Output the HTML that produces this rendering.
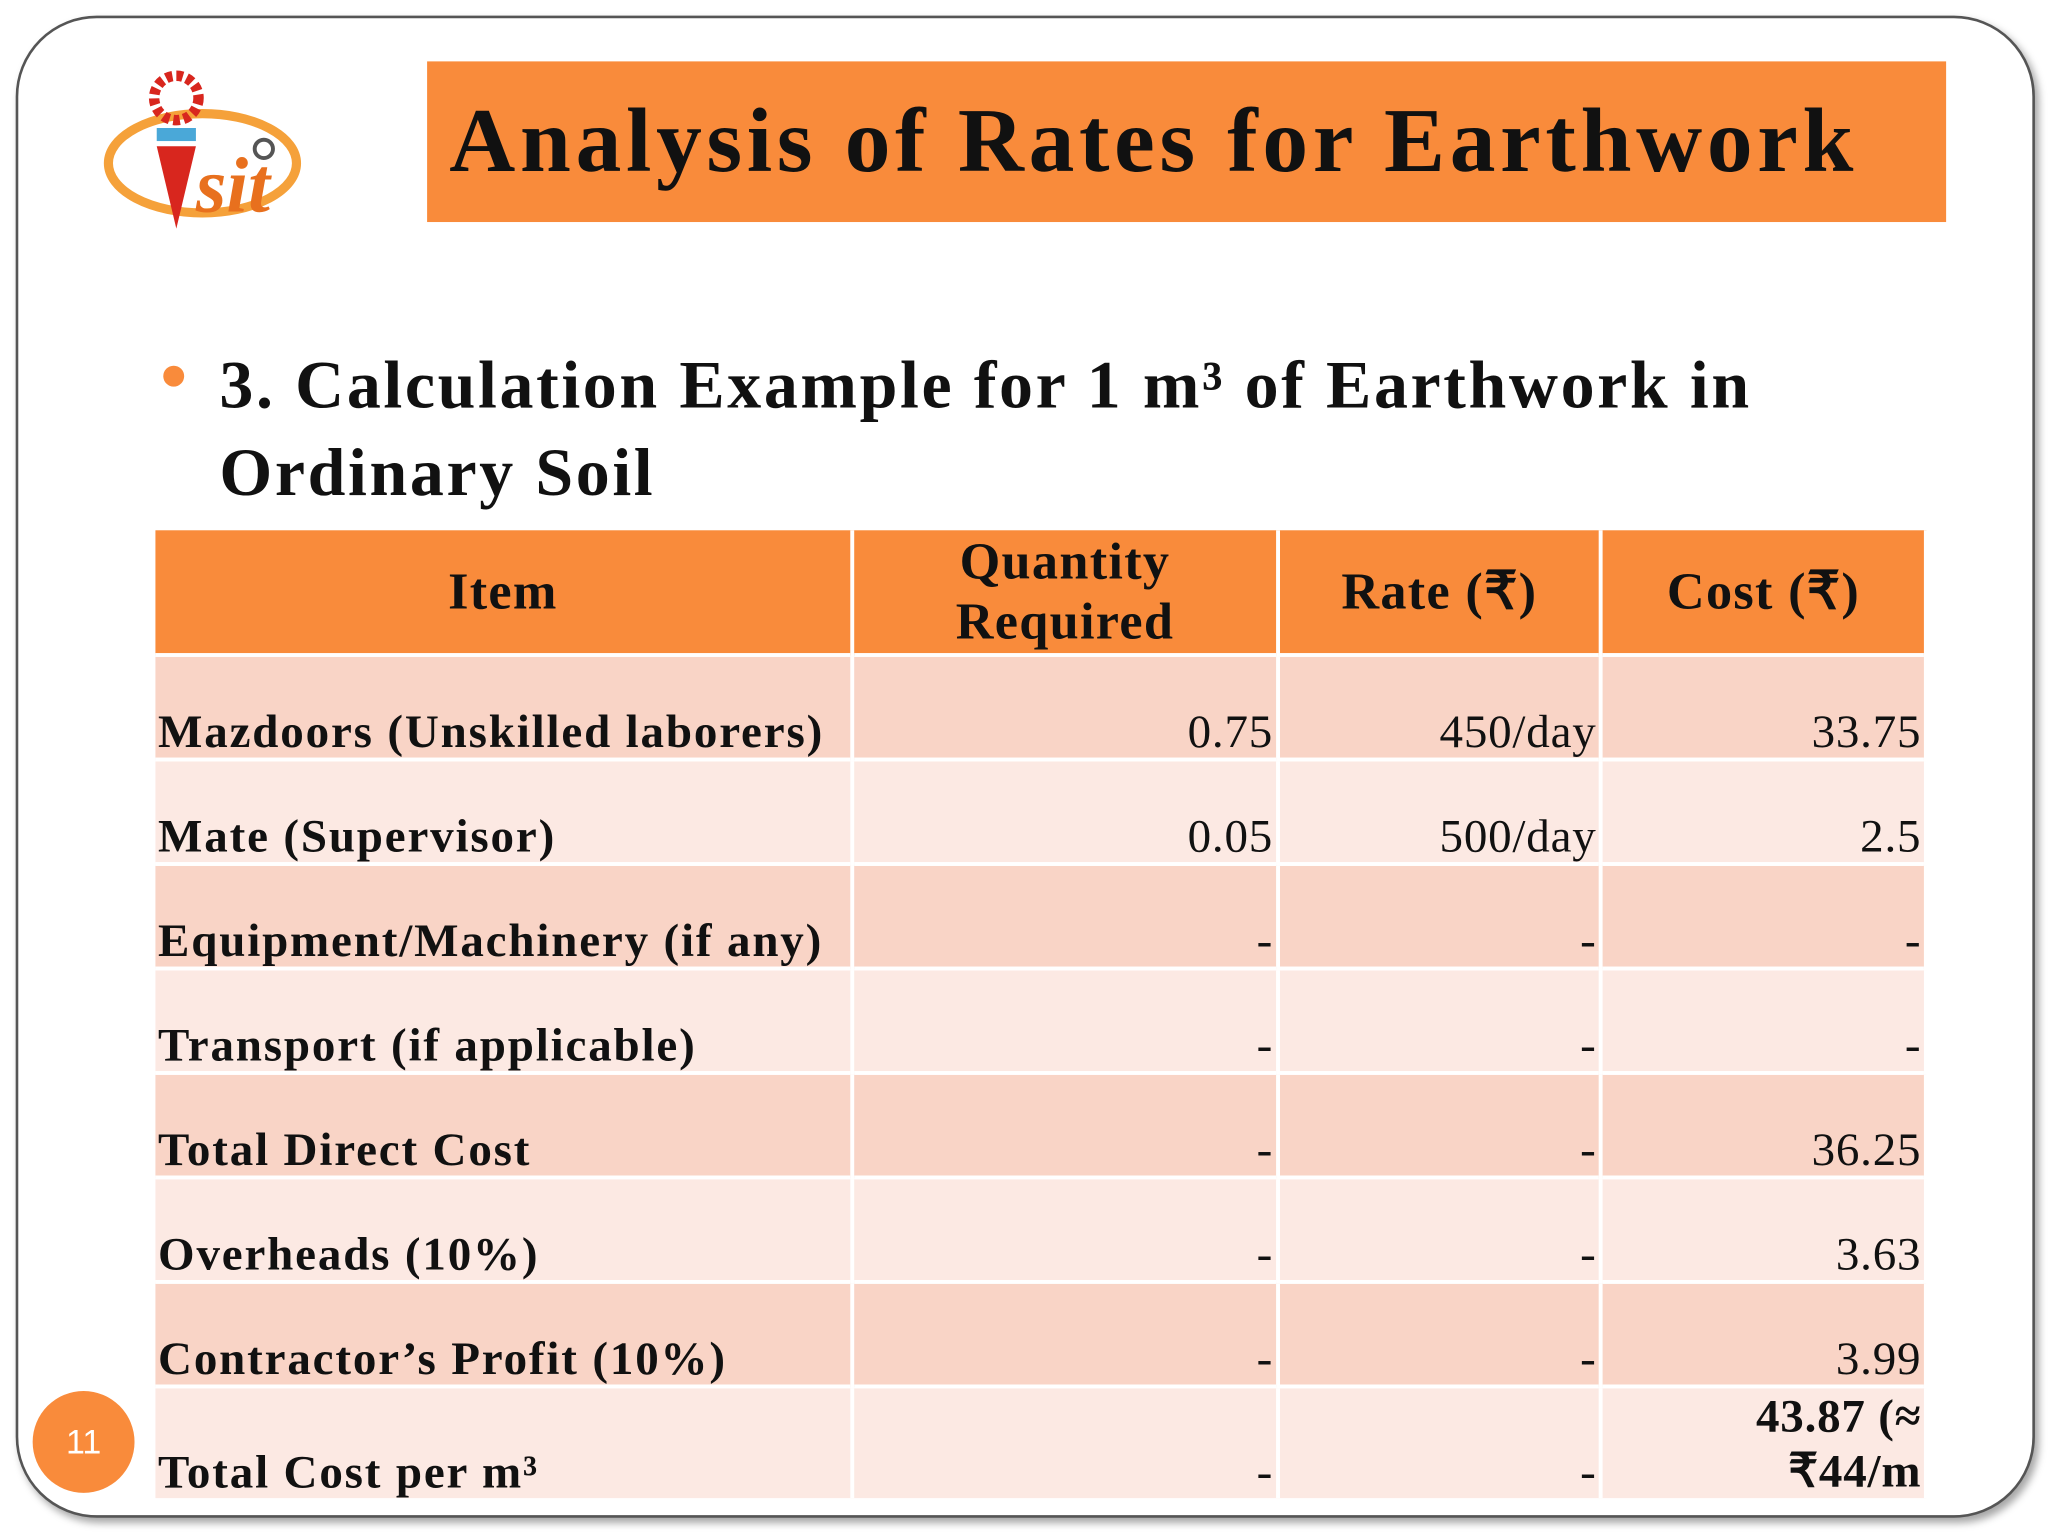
<!DOCTYPE html>
<html><head><meta charset="utf-8"><style>
html,body{margin:0;padding:0;background:#fff;}
body{width:2048px;height:1536px;overflow:hidden;}
#s{position:absolute;left:0;top:0;width:1568px;height:1176px;transform:scale(1.30612,1.30612);transform-origin:0 0;font-family:"Liberation Serif",serif;}
.frame{position:absolute;left:12px;top:12px;width:1542px;height:1146px;border:2px solid #555;border-radius:62px;box-shadow:3px 4px 6px rgba(0,0,0,.35);background:#fff;}
.title{position:absolute;left:327px;top:47px;width:1163px;height:123px;background:#F98B3B;}
.title span{position:absolute;left:17px;top:22px;font-size:70px;font-weight:bold;color:#111;white-space:nowrap;letter-spacing:3.6px;}
.bul{position:absolute;left:125px;top:280px;width:16px;height:16px;border-radius:50%;background:#F98B3B;}
.sub{position:absolute;left:168px;top:262px;font-size:52px;font-weight:bold;line-height:67px;color:#111;letter-spacing:2px;}
table{position:absolute;left:119px;top:406px;width:1357px;border-collapse:collapse;}
th{background:#F98B3B;height:94px;font-size:40px;color:#111;line-height:46px;border-right:3px solid #fff;padding:0;letter-spacing:1px;}
td{font-size:36px;color:#111;vertical-align:bottom;padding:0 2px 0 2px;height:77px;border-right:3px solid #fff;border-top:3px solid #fff;line-height:40px;}
td.i{font-weight:bold;text-align:left;letter-spacing:1.4px;}
td.n{text-align:right;letter-spacing:0.6px;}
tr.a td{background:#F9D4C6;}
tr.b td{background:#FCE9E3;}
.pg{position:absolute;left:25px;top:1065px;width:78px;height:78px;border-radius:50%;background:#F98B3B;color:#fff;font-family:"Liberation Sans",sans-serif;font-size:26px;text-align:center;line-height:78px;}
</style></head><body>
<div id="s">
<div class="frame"></div>
<svg style="position:absolute;left:70px;top:50px" width="200" height="135" viewBox="0 0 200 135">
<ellipse cx="85" cy="75" rx="72" ry="38" fill="none" stroke="#F5A13A" stroke-width="7"/>
<circle cx="65" cy="25" r="17" fill="none" stroke="#D8261E" stroke-width="8" stroke-dasharray="5 3"/>
<circle cx="65" cy="25" r="7" fill="#fff"/>
<rect x="50" y="48" width="30" height="10" fill="#4AA8D8"/>
<polygon points="50,62 80,62 65,125" fill="#D8261E"/>
<text x="80" y="112" font-family="Liberation Serif,serif" font-style="italic" font-weight="bold" font-size="60" fill="#E8701E">sit</text>
<circle cx="132" cy="64" r="7" fill="none" stroke="#555" stroke-width="3"/>
</svg>
<div class="title"><span>Analysis of Rates for Earthwork</span></div>
<div class="bul"></div>
<div class="sub">3. Calculation Example for 1 m³ of Earthwork in<br>Ordinary Soil</div>
<table>
<colgroup><col style="width:534px"><col style="width:326px"><col style="width:248px"><col style="width:249px"></colgroup>
<tr><th>Item</th><th>Quantity<br>Required</th><th>Rate (₹)</th><th>Cost (₹)</th></tr>
<tr class="a"><td class="i">Mazdoors (Unskilled laborers)</td><td class="n">0.75</td><td class="n">450/day</td><td class="n">33.75</td></tr>
<tr class="b"><td class="i">Mate (Supervisor)</td><td class="n">0.05</td><td class="n">500/day</td><td class="n">2.5</td></tr>
<tr class="a"><td class="i">Equipment/Machinery (if any)</td><td class="n">-</td><td class="n">-</td><td class="n">-</td></tr>
<tr class="b"><td class="i">Transport (if applicable)</td><td class="n">-</td><td class="n">-</td><td class="n">-</td></tr>
<tr class="a"><td class="i">Total Direct Cost</td><td class="n">-</td><td class="n">-</td><td class="n">36.25</td></tr>
<tr class="b"><td class="i">Overheads (10%)</td><td class="n">-</td><td class="n">-</td><td class="n">3.63</td></tr>
<tr class="a"><td class="i">Contractor’s Profit (10%)</td><td class="n">-</td><td class="n">-</td><td class="n">3.99</td></tr>
<tr class="b"><td class="i" style="height:84px">Total Cost per m³</td><td class="n">-</td><td class="n">-</td><td class="n" style="font-weight:bold;line-height:42px">43.87 (≈<br>₹44/m</td></tr>
</table>
<div class="pg">11</div>
</div>
</body></html>
